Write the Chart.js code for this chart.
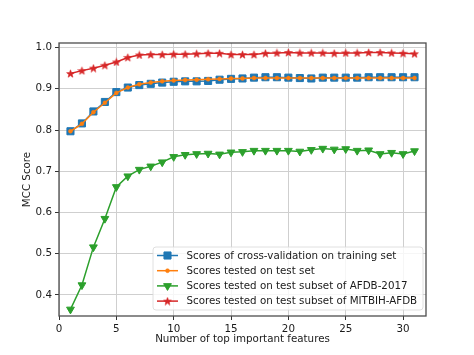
<!DOCTYPE html>
<html>
<head>
<meta charset="utf-8">
<script src="https://cdn.jsdelivr.net/npm/chart.js@4.4.1/dist/chart.umd.min.js"></script>
<style>
html,body{margin:0;padding:0;background:#fff;}
#wrap{width:474px;height:355px;position:relative;}
</style>
</head>
<body>
<div id="wrap"><canvas id="c" width="474" height="355"></canvas></div>
<script>
const features = [1,2,3,4,5,6,7,8,9,10,11,12,13,14,15,16,17,18,19,20,21,22,23,24,25,26,27,28,29,30,31];
const cvScores = [0.797,0.816,0.845,0.868,0.892,0.903,0.909,0.912,0.915,0.917,0.918,0.918,0.919,0.922,0.924,0.925,0.927,0.928,0.928,0.927,0.926,0.925,0.927,0.927,0.927,0.927,0.928,0.928,0.928,0.928,0.928];
const testScores = [0.797,0.815,0.843,0.866,0.890,0.903,0.911,0.915,0.918,0.920,0.921,0.922,0.923,0.924,0.925,0.925,0.926,0.926,0.926,0.926,0.926,0.926,0.926,0.926,0.926,0.926,0.926,0.926,0.926,0.926,0.926];
const afdbScores = [0.365,0.424,0.516,0.585,0.662,0.688,0.704,0.712,0.722,0.735,0.740,0.742,0.743,0.741,0.746,0.747,0.750,0.750,0.750,0.750,0.748,0.752,0.755,0.753,0.754,0.750,0.751,0.742,0.745,0.742,0.749];
const mitbihScores = [0.937,0.944,0.950,0.957,0.965,0.976,0.982,0.983,0.983,0.984,0.984,0.985,0.986,0.986,0.983,0.983,0.983,0.986,0.987,0.988,0.987,0.987,0.987,0.986,0.987,0.987,0.988,0.988,0.987,0.986,0.985];
const seriesNames = ['Scores of cross-validation on training set','Scores tested on test set','Scores tested on test subset of AFDB-2017','Scores tested on test subset of MITBIH-AFDB'];
const xTicks = [0,5,10,15,20,25,30];
const yTicks = [0.4,0.5,0.6,0.7,0.8,0.9,1.0];
const xLabel = 'Number of top important features';
const yLabel = 'MCC Score';

// filled star marker
function makeStar(size, fill, stroke){
  const cv = document.createElement('canvas');
  cv.width = size; cv.height = size;
  const g = cv.getContext('2d');
  const cx = size/2, cy = size/2 + 0.4, R = size/2 - 0.4, r = R*0.42;
  g.beginPath();
  for (let i=0;i<10;i++){
    const a = -Math.PI/2 + i*Math.PI/5;
    const rr = i%2===0 ? R : r;
    const px = cx + rr*Math.cos(a), py = cy + rr*Math.sin(a);
    if (i===0) g.moveTo(px,py); else g.lineTo(px,py);
  }
  g.closePath();
  g.fillStyle = fill; g.fill();
  g.lineWidth = 0.6; g.strokeStyle = stroke; g.stroke();
  return cv;
}
const starImg = makeStar(9, '#d62728', '#d62728');

const toXY = arr => features.map((f,i)=>({x:f,y:arr[i]}));

const datasets = [
  {label:seriesNames[0], data:toXY(cvScores), borderColor:'#1f77b4', backgroundColor:'#1f77b4', borderWidth:1.5,
   pointStyle:'rect', pointRadius:5, pointBorderWidth:1, order:4},
  {label:seriesNames[1], data:toXY(testScores), borderColor:'#ff7f0e', backgroundColor:'#ff7f0e', borderWidth:1.5,
   pointStyle:'circle', pointRadius:2, pointBorderWidth:0.5, order:3},
  {label:seriesNames[2], data:toXY(afdbScores), borderColor:'#2ca02c', backgroundColor:'#2ca02c', borderWidth:1.5,
   pointStyle:'triangle', pointRotation:180, pointRadius:4.5, pointBorderWidth:1, order:2},
  {label:seriesNames[3], data:toXY(mitbihScores), borderColor:'#d62728', backgroundColor:'#d62728', borderWidth:1.5,
   pointStyle:starImg, pointRadius:4.5, pointBorderWidth:1, order:1}
];

const framePlugin = {
  id:'frame',
  afterDatasetsDraw(chart){
    const {ctx, chartArea:a} = chart;
    ctx.save();
    ctx.strokeStyle = '#4d4d4d';
    ctx.lineWidth = 1.3;
    ctx.strokeRect(a.left, a.top, a.right-a.left, a.bottom-a.top);
    ctx.restore();
  }
};

const legendPlugin = {
  id:'innerLegend',
  afterDraw(chart){
    const {ctx, chartArea:a} = chart;
    const bx = 153, by = 247, bw = a.right - 3 - bx, bh = 63;
    ctx.save();
    ctx.globalAlpha = 0.8;
    ctx.fillStyle = '#ffffff';
    ctx.beginPath();
    ctx.roundRect(bx, by, bw, bh, 3);
    ctx.fill();
    ctx.globalAlpha = 1;
    ctx.strokeStyle = '#d8d8d8';
    ctx.lineWidth = 0.8;
    ctx.stroke();
    ctx.font = '10.3px "DejaVu Sans"';
    ctx.textBaseline = 'middle';
    ctx.textAlign = 'left';
    const rowY0 = 255.5, dy = 15.2;
    [0,1,2,3].forEach((di,i)=>{
      const ds = chart.data.datasets[di];
      const y = rowY0 + i*dy;
      ctx.strokeStyle = ds.borderColor;
      ctx.lineWidth = 1.5;
      ctx.beginPath(); ctx.moveTo(157,y); ctx.lineTo(178,y); ctx.stroke();
      ctx.fillStyle = ds.backgroundColor;
      ctx.strokeStyle = ds.borderColor;
      ctx.lineWidth = ds.pointBorderWidth;
      Chart.helpers.drawPoint(ctx, {pointStyle:ds.pointStyle, rotation:ds.pointRotation||0, radius:ds.pointRadius, borderWidth:ds.pointBorderWidth}, 167.5, y);
      ctx.fillStyle = '#1a1a1a';
      ctx.fillText(ds.label, 186.5, y+0.5);
    });
    ctx.restore();
  }
};

const tickFont = {family:'DejaVu Sans', size:10.3};

new Chart(document.getElementById('c'), {
  type:'line',
  data:{datasets},
  options:{
    responsive:false,
    animation:false,
    devicePixelRatio:1,
    layout:{padding:{left:0,right:48,top:43,bottom:0}},
    plugins:{legend:{display:false}, tooltip:{enabled:false}},
    elements:{line:{tension:0}},
    scales:{
      x:{
        type:'linear', min:0, max:32,
        afterBuildTicks(s){ s.ticks = xTicks.map(v=>({value:v})); },
        afterFit(s){ s.height = 39; },
        grid:{color:'#cfcfcf', lineWidth:1, tickColor:'#333', tickLength:4, drawTicks:true},
        border:{display:false},
        ticks:{color:'#1a1a1a', font:tickFont, padding:3, maxRotation:0, callback:v=>String(v)},
        title:{display:true, text:xLabel, color:'#1a1a1a', font:tickFont, padding:{top:0,bottom:9}}
      },
      y:{
        type:'linear', min:0.349, max:1.011,
        afterBuildTicks(s){ s.ticks = yTicks.map(v=>({value:v})); },
        afterFit(s){ s.width = 59; },
        grid:{color:'#cfcfcf', lineWidth:1, tickColor:'#333', tickLength:4, drawTicks:true},
        border:{display:false},
        ticks:{color:'#1a1a1a', font:tickFont, padding:3, callback:v=>Number(v).toFixed(1)},
        title:{display:true, text:yLabel, color:'#1a1a1a', font:tickFont, padding:{top:21,bottom:0}}
      }
    }
  },
  plugins:[framePlugin, legendPlugin]
});
</script>
</body>
</html>
